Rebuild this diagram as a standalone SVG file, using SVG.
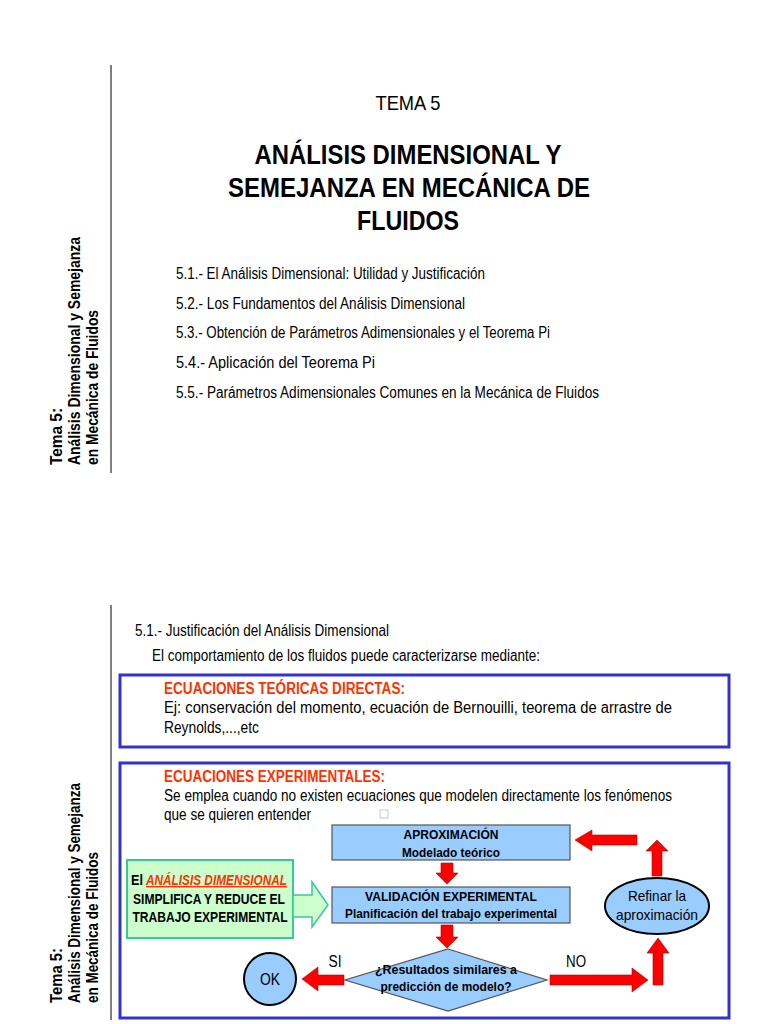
<svg xmlns="http://www.w3.org/2000/svg" width="768" height="1024" viewBox="0 0 768 1024">
<style>
text{font-family:"Liberation Sans Narrow","Liberation Sans",Arial,sans-serif;fill:#000}
.side{font-size:16px;font-weight:bold}
.list{font-size:16px}
.title{font-size:28px;font-weight:bold;text-anchor:middle}
.red{fill:#ff3300;font-weight:bold;font-size:16px}
.body{font-size:16px}
.bx{fill:#99ccff;stroke:#555;stroke-width:1.2}
.bt{font-size:13px;font-weight:bold;text-anchor:middle}
.arr{fill:#ff0000;stroke:#b00000;stroke-width:0.6}
.gt{font-size:14px;font-weight:bold;text-anchor:middle}
.frame{fill:none;stroke:#3333cc;stroke-width:3}
</style>
<rect width="768" height="1024" fill="#fff"/>
<g id="page1">
<line x1="111" y1="65" x2="111" y2="473" stroke="#000" stroke-width="1"/>
<text class="side" transform="translate(62,465) rotate(-90)" textLength="57" lengthAdjust="spacingAndGlyphs">Tema 5:</text>
<text class="side" transform="translate(80,465) rotate(-90)" textLength="228" lengthAdjust="spacingAndGlyphs">Análisis Dimensional y Semejanza</text>
<text class="side" transform="translate(98,465) rotate(-90)" textLength="155" lengthAdjust="spacingAndGlyphs">en Mecánica de Fluidos</text>
<text x="408" y="110" font-size="21" text-anchor="middle" textLength="65" lengthAdjust="spacingAndGlyphs">TEMA 5</text>
<text class="title" x="408" y="164" textLength="307" lengthAdjust="spacingAndGlyphs">ANÁLISIS DIMENSIONAL Y</text>
<text class="title" x="409" y="197" textLength="362" lengthAdjust="spacingAndGlyphs">SEMEJANZA EN MECÁNICA DE</text>
<text class="title" x="408" y="230" textLength="102" lengthAdjust="spacingAndGlyphs">FLUIDOS</text>
<text class="list" x="176" y="279" textLength="309" lengthAdjust="spacingAndGlyphs">5.1.- El Análisis Dimensional: Utilidad y Justificación</text>
<text class="list" x="176" y="309" textLength="289" lengthAdjust="spacingAndGlyphs">5.2.- Los Fundamentos del Análisis Dimensional</text>
<text class="list" x="176" y="338" textLength="374" lengthAdjust="spacingAndGlyphs">5.3.- Obtención de Parámetros Adimensionales y el Teorema Pi</text>
<text class="list" x="176" y="368" textLength="199" lengthAdjust="spacingAndGlyphs">5.4.- Aplicación del Teorema Pi</text>
<text class="list" x="176" y="398" textLength="423" lengthAdjust="spacingAndGlyphs">5.5.- Parámetros Adimensionales Comunes en la Mecánica de Fluidos</text>
</g>
<g id="page2">
<line x1="111" y1="605" x2="111" y2="1020" stroke="#000" stroke-width="1"/>
<text class="side" transform="translate(62,1003) rotate(-90)" textLength="55" lengthAdjust="spacingAndGlyphs">Tema 5:</text>
<text class="side" transform="translate(80,1003) rotate(-90)" textLength="220" lengthAdjust="spacingAndGlyphs">Análisis Dimensional y Semejanza</text>
<text class="side" transform="translate(98,1003) rotate(-90)" textLength="151" lengthAdjust="spacingAndGlyphs">en Mecánica de Fluidos</text>
<text class="body" x="135" y="636" textLength="254" lengthAdjust="spacingAndGlyphs">5.1.- Justificación del Análisis Dimensional</text>
<text class="body" x="152" y="661" textLength="388" lengthAdjust="spacingAndGlyphs">El comportamiento de los fluidos puede caracterizarse mediante:</text>
</g>
<g id="box-teoricas">
<rect class="frame" x="120" y="675" width="609" height="72"/>
<text class="red" x="164" y="694" textLength="241" lengthAdjust="spacingAndGlyphs">ECUACIONES TEÓRICAS DIRECTAS:</text>
<text class="body" x="164" y="713" textLength="508" lengthAdjust="spacingAndGlyphs">Ej: conservación del momento, ecuación de Bernouilli, teorema de arrastre de</text>
<text class="body" x="164" y="733" textLength="95" lengthAdjust="spacingAndGlyphs">Reynolds,...,etc</text>
</g>
<g id="box-experimentales">
<rect class="frame" x="120" y="763" width="609" height="255"/>
<text class="red" x="164" y="782" textLength="221" lengthAdjust="spacingAndGlyphs">ECUACIONES EXPERIMENTALES:</text>
<text class="body" x="164" y="801" textLength="508" lengthAdjust="spacingAndGlyphs">Se emplea cuando no existen ecuaciones que modelen directamente los fenómenos</text>
<text class="body" x="164" y="820" textLength="147" lengthAdjust="spacingAndGlyphs">que se quieren entender</text>
<rect x="380" y="810" width="8" height="8" fill="none" stroke="#bbb" stroke-width="0.8"/>
</g>
<g id="aproximacion">
<rect class="bx" x="332" y="825" width="238" height="35"/>
<text class="bt" x="451" y="839" textLength="95" lengthAdjust="spacingAndGlyphs">APROXIMACIÓN</text>
<text class="bt" x="451" y="857" textLength="98" lengthAdjust="spacingAndGlyphs">Modelado teórico</text>
</g>
<g id="validacion">
<rect class="bx" x="332" y="887" width="238" height="36"/>
<text class="bt" x="451" y="901" textLength="172" lengthAdjust="spacingAndGlyphs">VALIDACIÓN EXPERIMENTAL</text>
<text class="bt" x="451" y="918" textLength="212" lengthAdjust="spacingAndGlyphs">Planificación del trabajo experimental</text>
</g>
<g id="decision">
<polygon points="448,949 547,980 448,1011 345,980" fill="#99ccff" stroke="#555" stroke-width="1.2"/>
<text class="bt" x="446" y="974" textLength="142" lengthAdjust="spacingAndGlyphs">¿Resultados similares a</text>
<text class="bt" x="446" y="991" textLength="131" lengthAdjust="spacingAndGlyphs">predicción de modelo?</text>
</g>
<g id="ok">
<circle cx="270" cy="979" r="26" fill="#99ccff" stroke="#000" stroke-width="2"/>
<text x="270" y="985" font-size="16" text-anchor="middle" textLength="20" lengthAdjust="spacingAndGlyphs">OK</text>
</g>
<g id="refinar">
<ellipse cx="657" cy="906" rx="52" ry="28" fill="#99ccff" stroke="#000" stroke-width="2"/>
<text x="657" y="901" font-size="15" text-anchor="middle" textLength="58" lengthAdjust="spacingAndGlyphs">Refinar la</text>
<text x="657" y="920" font-size="15" text-anchor="middle" textLength="82" lengthAdjust="spacingAndGlyphs">aproximación</text>
</g>
<g id="analisis">
<rect x="127" y="860" width="166" height="78" fill="#ccffcc" stroke="#33cc99" stroke-width="2"/>
<text x="131" y="885" font-size="14" font-weight="bold" textLength="12" lengthAdjust="spacingAndGlyphs">El</text>
<text x="146" y="885" font-size="14" font-weight="bold" font-style="italic" fill="#ff3300" style="fill:#ff3300" text-decoration="underline" textLength="141" lengthAdjust="spacingAndGlyphs">ANÁLISIS DIMENSIONAL</text>
<text class="gt" x="209" y="904" textLength="152" lengthAdjust="spacingAndGlyphs">SIMPLIFICA Y REDUCE EL</text>
<text class="gt" x="210" y="922" textLength="155" lengthAdjust="spacingAndGlyphs">TRABAJO EXPERIMENTAL</text>
</g>
<g id="connectors">
<polygon points="293,895 312,895 312,882 328,905 312,927 312,917 293,917" fill="#ccffcc" stroke="#33cc99" stroke-width="1.5"/>
<polygon class="arr" points="441,863 453,863 453,873 458,873 447,884 436,873 441,873"/>
<polygon class="arr" points="441,925 453,925 453,937 458,937 447,948 436,937 441,937"/>
<polygon class="arr" points="344,975 318,975 318,967 302,979 318,991 318,985 344,985"/>
<polygon class="arr" points="550,975 632,975 632,968 648,980 632,992 632,985 550,985"/>
<polygon class="arr" points="653,985 653,953 647,953 658,938 669,953 663,953 663,985"/>
<polygon class="arr" points="652,876 652,851 646,851 657,840 668,851 662,851 662,876"/>
<polygon class="arr" points="637,835 592,835 592,830 575,840 592,851 592,845 637,845"/>
<text x="335" y="967" font-size="16" text-anchor="middle" textLength="13" lengthAdjust="spacingAndGlyphs">SI</text>
<text x="576" y="967" font-size="16" text-anchor="middle" textLength="20" lengthAdjust="spacingAndGlyphs">NO</text>
</g>
</svg>
